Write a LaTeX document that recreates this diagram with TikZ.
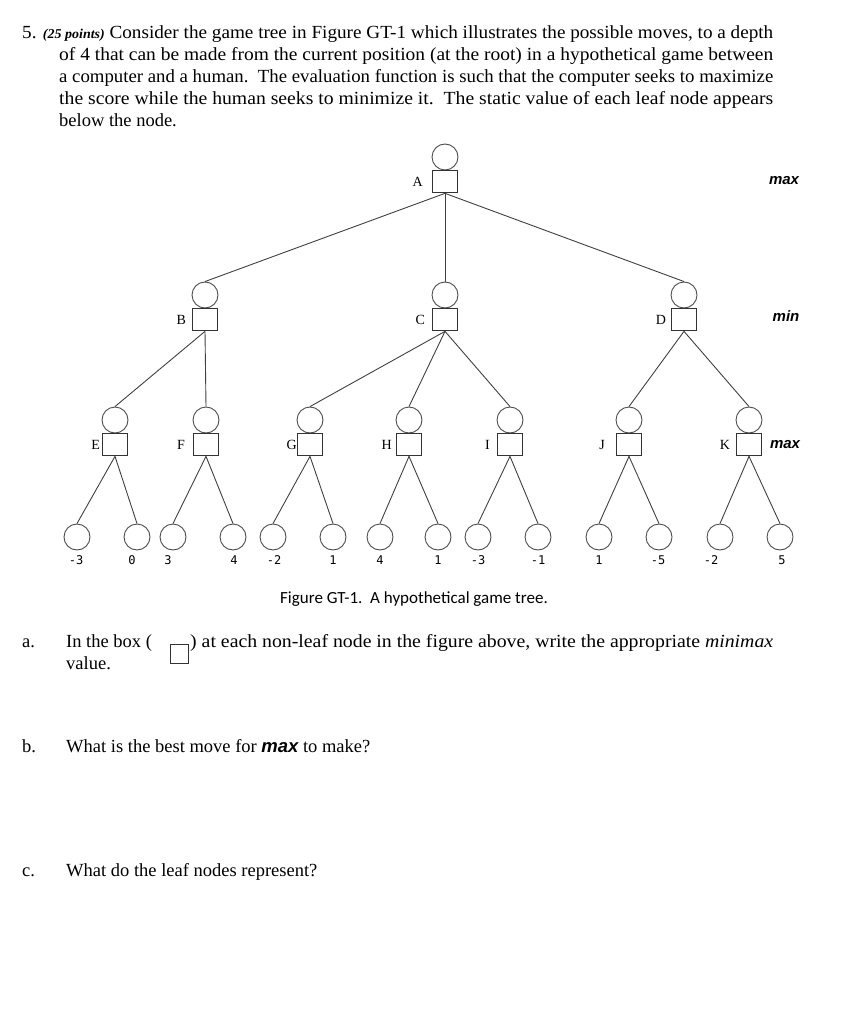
\documentclass[tikz,border=0pt]{standalone}
\usepackage{fontspec}
\setmainfont{Liberation Serif}
\newfontfamily\capfont{Carlito}
\newfontfamily\armfont{Liberation Sans}
\newfontfamily\valfont{DejaVu Sans Mono}
\usetikzlibrary{positioning}

\begin{document}
\begin{tikzpicture}[x=1pt,y=-1pt,
    ring/.style={circle,draw=black!70,line width=0.9pt,minimum size=26pt,inner sep=0pt},
    box/.style={rectangle,draw=black!80,line width=0.9pt,minimum width=25pt,minimum height=22pt,inner sep=0pt},
    edge/.style={draw=black!75,line width=0.9pt},
    tag/.style={font=\fontsize{14}{14}\selectfont,inner sep=0pt},
    lvl/.style={font=\armfont\bfseries\itshape\fontsize{15}{15}\selectfont,inner sep=0pt},
    val/.style={font=\valfont\fontsize{12}{12}\selectfont,inner sep=0pt},
    txt/.style={anchor=base west,inner sep=0pt,font=\fontsize{18.5}{22}\selectfont}]

    \useasboundingbox (0,0) rectangle (845,1024);

    % question text
    \node[txt] (t1) at (22,39) {\resizebox{751pt}{\height}{5. {\bfseries\itshape\fontsize{13.5}{14}\selectfont (25 points)} Consider the game tree in Figure GT-1 which illustrates the possible moves, to a depth}};
    \node[txt] (t2) at (59,61) {\resizebox{714pt}{\height}{of 4 that can be made from the current position (at the root) in a hypothetical game between}};
    \node[txt] (t3) at (59,83) {\resizebox{714pt}{\height}{a computer and a human.\ \ The evaluation function is such that the computer seeks to maximize}};
    \node[txt] (t4) at (59,105) {\resizebox{714pt}{\height}{the score while the human seeks to minimize it.\ \ The static value of each leaf node appears}};
    \node[txt] (t5) at (59,127) {below the node.};

    % non-leaf nodes: circle with box below, letter on the left
    \foreach \n/\x/\y/\g in {A/445/157/9, B/205/295/6, C/445/295/7, D/684/295/5,
                             E/115/420/2, F/206/420/8, G/310/420/0, H/409/420/4,
                             I/510/420/7, J/629/420/11, K/749/420/6} {
        \node[ring] (c\n) at (\x,\y) {};
        \node[box,below=0pt of c\n] (\n) {};
        \node[tag,left=\g pt of \n] (tag\n) {\n};
    }

    % leaves with their static values
    \foreach \i/\x/\v/\lx in {1/77/-3/76, 2/137/0/132, 3/173/3/168, 4/233/4/234,
                              5/273/-2/274, 6/333/1/333, 7/380/4/380, 8/438/1/438,
                              9/478/-3/478, 10/538/-1/538, 11/599/1/599, 12/659/-5/658,
                              13/720/-2/711, 14/780/5/782} {
        \node[ring] (l\i) at (\x,537) {};
        \node[val] (v\i) at (\lx,560) {\v};
    }

    % connectors
    \foreach \p/\c in {A/B, A/C, A/D, B/E, B/F, C/G, C/H, C/I, D/J, D/K}
        \draw[edge] (\p.south) -- (c\c.north);
    \foreach \p/\a/\b in {E/1/2, F/3/4, G/5/6, H/7/8, I/9/10, J/11/12, K/13/14} {
        \draw[edge] (\p.south) -- (l\a.north);
        \draw[edge] (\p.south) -- (l\b.north);
    }

    % level labels
    \node[lvl] (lmax1) at (784,181) {max};
    \node[lvl] (lmin) at (786,316) {min};
    \node[lvl] (lmax2) at (785,445) {max};

    % caption
    \node[font=\capfont\fontsize{17}{17}\selectfont,inner sep=0pt,anchor=base] (cap) at (414,603) {Figure GT-1.\ \ A hypothetical game tree.};

    % parts a, b, c
    \node[txt] (pa) at (22,647) {a.};
    \node[txt] (pa1) at (66,647) {In the box (};
    \node[rectangle,draw=black!80,line width=0.9pt,minimum width=18pt,minimum height=19pt,inner sep=0pt] (sq) at (179,653.5) {};
    \node[txt] (pa2) at (190,647) {\resizebox{583pt}{\height}{) at each non-leaf node in the figure above, write the appropriate \textit{minimax}}};
    \node[txt] (pa3) at (66,669) {value.};
    \node[txt] (pb) at (22,752) {b.};
    \node[txt] (pb1) at (66,752) {What is the best move for {\armfont\bfseries\itshape max} to make?};
    \node[txt] (pc) at (22,876) {c.};
    \node[txt] (pc1) at (66,876) {What do the leaf nodes represent?};
\end{tikzpicture}
\end{document}
